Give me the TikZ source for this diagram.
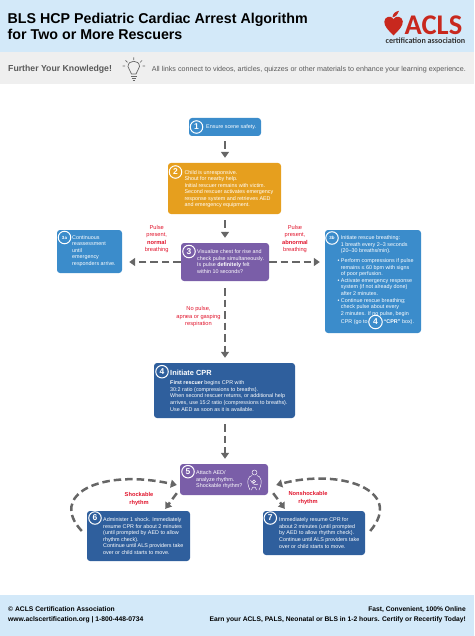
\documentclass[tikz,border=0pt]{standalone}
\usepackage{fontspec}
\setmainfont{Liberation Sans}
\newfontfamily\logofont{Carlito}
\usetikzlibrary{arrows.meta}
\definecolor{hdrblue}{HTML}{D3E9F9}
\definecolor{hdrgray}{HTML}{EFEFEF}
\definecolor{boxblue}{HTML}{3B8CCB}
\definecolor{boxorange}{HTML}{E69F1E}
\definecolor{boxpurple}{HTML}{7A5EA8}
\definecolor{boxnavy}{HTML}{2F5F9D}
\definecolor{lblred}{HTML}{E0142C}
\definecolor{arrgray}{HTML}{666666}
\definecolor{logored}{HTML}{C8281E}
\tikzset{
  x=1pt,y=-1pt,
  stepbox/.style={rounded corners=3pt,inner sep=0pt,minimum width=#1},
  boxtext/.style={text=white,anchor=west,align=left,inner sep=0pt,font=\fontsize{5.4}{6.55}\selectfont},
  redlabel/.style={text=lblred,align=center,inner sep=0pt,font=\fontsize{5.7}{7.5}\selectfont},
  flow/.style={draw=arrgray,line width=2.5pt,dash pattern=on 7.5pt off 4pt,-{Triangle[width=8pt,length=6pt]}},
  badge/.style={circle,draw=white,line width=1pt,minimum size=12.5pt,inner sep=0pt,text=white,font=\fontsize{8.5}{8.5}\bfseries\selectfont},
  strip/.style={inner sep=0pt,anchor=west,text=black},
}
\begin{document}
\begin{tikzpicture}
\useasboundingbox (0,0) rectangle (474,636);
% bands
\fill[hdrblue] (0,0) rectangle (474,52);
\fill[hdrgray] (0,52) rectangle (474,84);
\fill[hdrblue] (0,595) rectangle (474,636);
% title
\node[strip,align=left,font=\fontsize{14.25}{16.2}\bfseries\selectfont] (title) at (7.5,26.5) {BLS HCP Pediatric Cardiac Arrest Algorithm\\for Two or More Rescuers};
% logo
\fill[logored] (393.5,35.5) .. controls (388,30) and (384,26) .. (384.3,21.5) .. controls (384.6,16.5) and (391,15) .. (393.5,19) .. controls (396,15) and (402.6,16.5) .. (402.8,21.5) .. controls (403,26) and (399,30) .. (393.5,35.5) -- cycle;
\fill[logored] (392.5,17.5) .. controls (392.5,14) and (395,11.5) .. (399,10.8) .. controls (398.5,14) and (396,16.5) .. (392.5,17.5) -- cycle;
\node[inner sep=0pt,anchor=base west,text=logored,font=\fontsize{28.5}{28.5}\logofont\bfseries\selectfont] (acls) at (404.5,35) {ACLS};
\node[inner sep=0pt,anchor=base east,text=black!80,font=\fontsize{8.1}{8.1}\logofont\bfseries\selectfont] (cert) at (465.5,43.5) {certification association};
% further knowledge
\node[strip,text=black!65,font=\fontsize{8.7}{9}\bfseries\selectfont] (further) at (8,69) {Further Your Knowledge!};
\node[inner sep=0pt,anchor=east,text=black!65,font=\fontsize{7.15}{8}\selectfont] (links) at (466,69.5) {All links connect to videos, articles, quizzes or other materials to enhance your learning experience.};
% bulb
\begin{scope}[draw=black!60,line width=.7pt]
\draw (131.5,74) .. controls (131,70.5) and (128,69.5) .. (128,66.5) .. controls (128,59.5) and (139.5,59.5) .. (139.5,66.5) .. controls (139.5,69.5) and (136.5,70.5) .. (136,74) -- cycle;
\draw (131,76) -- (136.5,76) (131.5,78) -- (136,78) (132.5,80) -- (135,80);
\draw (133.7,57.5) -- (133.7,60) (125.5,60.5) -- (127.5,62.5) (142,60.5) -- (140,62.5) (122.5,66) -- (125,66) (145,66) -- (142.5,66);
\end{scope}
% boxes
\node[stepbox=72pt,minimum height=18pt,fill=boxblue] (b1) at (225,127) {};
\node[stepbox=113pt,minimum height=51pt,fill=boxorange] (b2) at (224.5,188.5) {};
\node[stepbox=88pt,minimum height=38pt,fill=boxpurple] (b3) at (225,262) {};
\node[stepbox=65pt,minimum height=43pt,fill=boxblue] (b3a) at (89.5,251.5) {};
\node[stepbox=96pt,minimum height=103pt,fill=boxblue] (b3b) at (373,281.5) {};
\node[stepbox=141pt,minimum height=55pt,fill=boxnavy] (b4) at (224.5,390.5) {};
\node[stepbox=88pt,minimum height=31pt,fill=boxpurple] (b5) at (224,479.5) {};
\node[stepbox=103pt,minimum height=50pt,fill=boxnavy] (b6) at (138.5,536) {};
\node[stepbox=102pt,minimum height=44pt,fill=boxnavy] (b7) at (314,533) {};
% badges
\node[badge] (n1) at (196.5,127) {1};
\node[badge] (n2) at (175.5,172) {2};
\node[badge] (n3) at (189,251.5) {3};
\node[badge,font=\fontsize{4.5}{5}\bfseries\selectfont] (n3a) at (64.5,237.5) {3a};
\node[badge,font=\fontsize{4.5}{5}\bfseries\selectfont] (n3b) at (332,238) {3b};
\node[badge] (n4) at (162,371.7) {4};
\node[badge,minimum size=13.5pt] (n4b) at (375.5,322) {4};
\node[badge] (n5) at (188,471.7) {5};
\node[badge] (n6) at (95,518) {6};
\node[badge] (n7) at (270.3,518) {7};
% box text
\node[boxtext] (t1) at (206,127) {Ensure scene safety.};
\node[boxtext] (t2) at (184.3,189) {Child is unresponsive.\\Shout for nearby help.\\Initial rescuer remains with victim.\\Second rescuer activates emergency\\response system and retrieves AED\\and emergency equipment.};
\node[boxtext] (t3) at (197,261.7) {Visualize chest for rise and\\check pulse simultaneously.\\Is pulse \textbf{definitely} felt\\within 10 seconds?};
\node[boxtext] (t3a) at (72,251) {Continuous\\reassessment\\until\\emergency\\responders arrive.};
\node[boxtext] (t3b1) at (340.7,244.7) {Initiate rescue breathing:\\1 breath every 2–3 seconds\\(20–30 breaths/min).};
\node[boxtext] (t3b2) at (340.7,287.6) {\llap{•\hspace{1.5pt}}Perform compressions if pulse\\remains ≤ 60 bpm with signs\\of poor perfusion.\\\llap{•\hspace{1.5pt}}Activate emergency response\\system (if not already done)\\after 2 minutes.\\\llap{•\hspace{1.5pt}}Continue rescue breathing;\\check pulse about every\\2 minutes. If no pulse, begin};
\node[boxtext] (t3b3) at (340.7,322) {CPR (go to};
\node[boxtext] (t3b4) at (383.5,322) {\textbf{“CPR”} box).};
\node[boxtext,font=\fontsize{7.4}{8}\bfseries\selectfont] (t4h) at (170,372.7) {Initiate CPR};
\node[boxtext] (t4) at (170,396) {\textbf{First rescuer} begins CPR with\\30:2 ratio (compressions to breaths).\\When second rescuer returns, or additional help\\arrives, use 15:2 ratio (compressions to breaths).\\Use AED as soon as it is available.};
\node[boxtext] (t5) at (196,480) {Attach AED/\\analyze rhythm.\\Shockable rhythm?};
\node[boxtext] (t6) at (103,536) {Administer 1 shock. Immediately\\resume CPR for about 2 minutes\\(until prompted by AED to allow\\rhythm check).\\Continue until ALS providers take\\over or child starts to move.};
\node[boxtext] (t7) at (279,533) {Immediately resume CPR for\\about 2 minutes (until prompted\\by AED to allow rhythm check).\\Continue until ALS providers take\\over or child starts to move.};
% child icon in box 5
\begin{scope}[draw=white,line width=.45pt]
\draw (254.5,472.5) circle (2.5);
\draw (250,490) .. controls (246,482) and (248,476) .. (252,475.5) (257,475.5) .. controls (261,476) and (263,482) .. (259,490);
\draw (250.5,480) .. controls (252,484) and (256,486) .. (258,484);
\draw (254,481.5) circle (1.5);
\draw (251.5,490) .. controls (252,486) and (256,486) .. (256.5,490);
\end{scope}
% connectors
\draw[flow,shorten <=5pt,shorten >=5pt] (b1.south) -- (b1.south |- b2.north);
\draw[flow,shorten <=6pt,shorten >=5pt] (b2.south -| b3.north) -- (b3.north);
\draw[flow,shorten >=7pt] (b3.west) -- (b3.west -| b3a.east);
\draw[flow,shorten >=5pt] (b3.east) -- (b3.east -| b3b.west);
\draw[flow,shorten <=7pt,shorten >=5pt] (b3.south) -- (b3.south |- b4.north);
\draw[flow,shorten <=6pt,shorten >=5pt] (b4.south -| b3.south) -- (b3.south |- b5.north);
\draw[flow] ([shift={(-3,-2)}]b5.south west) -- ([shift={(-25,-2)}]b6.north east);
\draw[flow] ([shift={(5,-2)}]b5.south east) -- ([shift={(22,-2)}]b7.north west);
\draw[flow] ([shift={(-5,-5)}]b6.west) .. controls (48,495) and (100,468) .. ([shift={(-3,5.5)}]b5.west);
\draw[flow] ([shift={(5,-2)}]b7.east) .. controls (405,490) and (340,468) .. ([shift={(8,5.5)}]b5.east);
% labels
\node[redlabel] (l1) at (156.7,239) {Pulse\\present,\\\textbf{normal}\\breathing};
\node[redlabel] (l2) at (295,239) {Pulse\\present,\\\textbf{abnormal}\\breathing};
\node[redlabel] (l3) at (198.5,317) {No pulse,\\apnea or gasping\\respiration};
\node[redlabel,font=\fontsize{5.7}{7.5}\bfseries\selectfont] (l4) at (139,499) {Shockable\\rhythm};
\node[redlabel,font=\fontsize{5.7}{7.5}\bfseries\selectfont] (l5) at (308,498) {Nonshockable\\rhythm};
% footer
\node[strip,align=left,font=\fontsize{6.75}{9.6}\bfseries\selectfont] (f1) at (8,615) {© ACLS Certification Association\\www.aclscertification.org | 1-800-448-0734};
\node[inner sep=0pt,anchor=east,align=right,font=\fontsize{6.7}{9.6}\bfseries\selectfont] (f2) at (466,615) {Fast, Convenient, 100\% Online\\Earn your ACLS, PALS, Neonatal or BLS in 1-2 hours. Certify or Recertify Today!};
\end{tikzpicture}
\end{document}
